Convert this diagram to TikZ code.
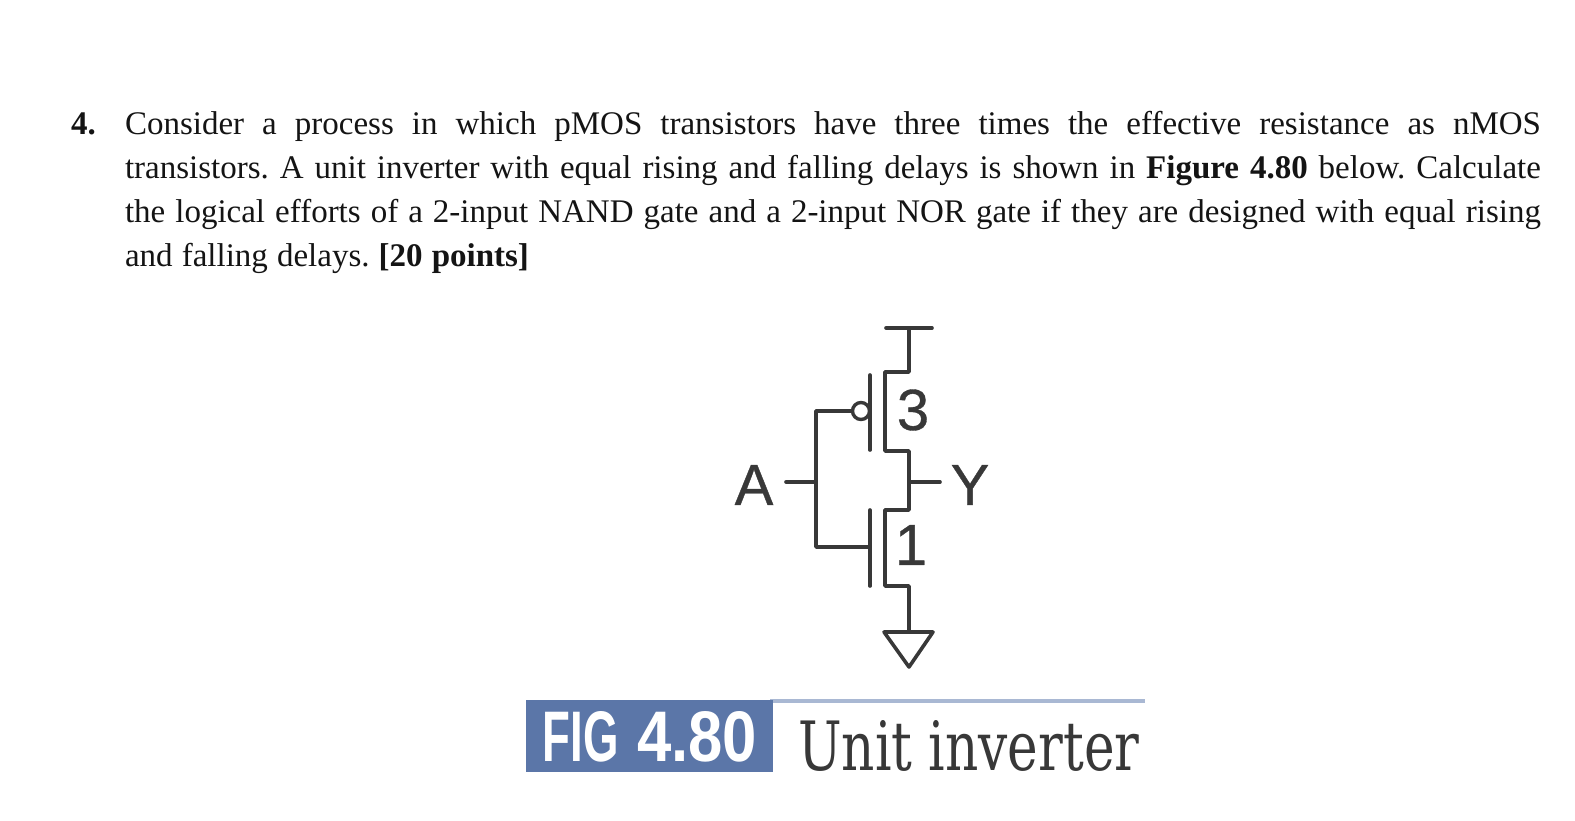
\documentclass[tikz,border=0pt]{standalone}
\usepackage{fontspec}
\setmainfont{Liberation Serif}
\newfontfamily\schem[FakeBold=0.6]{Liberation Sans}
\newfontfamily\figtag{Liberation Sans}
\newfontfamily\slab{DejaVu Serif}
\definecolor{wirecol}{HTML}{383838}
\definecolor{tagblue}{HTML}{5B76A8}
\definecolor{ruleblue}{HTML}{A9B8D3}
\definecolor{textcol}{HTML}{141414}
\newcommand{\jline}[1]{\makebox[1416pt][s]{#1}}
\tikzset{
  txt/.style={anchor=base west,inner sep=0pt,outer sep=0pt,text=textcol,font=\fontsize{33}{40}\selectfont},
  wire/.style={draw=wirecol,line width=3.6pt,line cap=round,line join=round},
  lbl/.style={inner sep=0pt,text=wirecol,font=\schem\fontsize{58}{60}\selectfont},
}
\begin{document}
\frenchspacing
\begin{tikzpicture}[x=1pt,y=-1pt]
\useasboundingbox (0,0) rectangle (1575,820);
\fill[white] (0,0) rectangle (1575,820);
\node[txt] (num) at (71,134) {\textbf{4.}};
\node[txt] (l1) at (125,134) {\jline{Consider a process in which pMOS transistors have three times the effective resistance as nMOS}};
\node[txt] (l2) at (125,178) {\jline{transistors. A unit inverter with equal rising and falling delays is shown in \textbf{Figure 4.80} below. Calculate}};
\node[txt] (l3) at (125,222) {\jline{the logical efforts of a 2-input NAND gate and a 2-input NOR gate if they are designed with equal rising}};
\node[txt] (l4) at (125,266) {\makebox[404pt][s]{and falling delays. \textbf{[20 points]}}};
% schematic
\coordinate (vl) at (886,328); \coordinate (vr) at (932,328); \coordinate (vm) at (909,328);
\coordinate (p1) at (909,372); \coordinate (p2) at (885,372); \coordinate (p3) at (885,451);
\coordinate (p4) at (909,451); \coordinate (o) at (909,482); \coordinate (n1) at (909,510);
\coordinate (n2) at (885,510); \coordinate (n3) at (885,586); \coordinate (n4) at (909,586);
\coordinate (gt) at (909,632); \coordinate (gl) at (884,632); \coordinate (gr) at (933,632); \coordinate (gb) at (909,667);
\coordinate (pgt) at (870,375); \coordinate (pgb) at (870,450);
\coordinate (ngt) at (870,510); \coordinate (ngb) at (870,586); \coordinate (ng) at (870,547);
\coordinate (w1) at (816,411); \coordinate (w2) at (816,547); \coordinate (w3) at (816,482);
\coordinate (as) at (786,482); \coordinate (ys) at (940,482);
\node[draw=wirecol,line width=3.4pt,circle,minimum size=17pt,inner sep=0pt] (bub) at (861,411) {};
\draw[wire] (vl) -- (vr);
\draw[wire] (vm) -- (p1) -- (p2) -- (p3) -- (p4) -- (n1) -- (n2) -- (n3) -- (n4) -- (gt);
\draw[wire] (gl) -- (gr) -- (gb) -- cycle;
\draw[wire] (pgt) -- (pgb);
\draw[wire] (ngt) -- (ngb);
\draw[wire] (bub.west) -- (w1) -- (w2) -- (ng);
\draw[wire] (as) -- (w3);
\draw[wire] (o) -- (ys);
\node[lbl] (A) at (754,485) {A};
\node[lbl] (Y) at (970,485) {Y};
\node[lbl] (three) at (913,410) {3};
\node[lbl] (one) at (911,545) {1};
% caption
\fill[ruleblue] (770,699) rectangle (1145,703);
\fill[tagblue] (526,700) rectangle (773,772);
\node[inner sep=0pt,text=white] (tag) at (650,737) {\resizebox{76pt}{50pt}{\figtag\bfseries FIG}\hspace{18pt}\resizebox{120pt}{50pt}{\figtag\bfseries 4.80}};
\node[inner sep=0pt,text=wirecol,anchor=base west] (cap) at (798,770) {\resizebox{341pt}{50pt}{\slab Unit inverter}};
\end{tikzpicture}
\end{document}
